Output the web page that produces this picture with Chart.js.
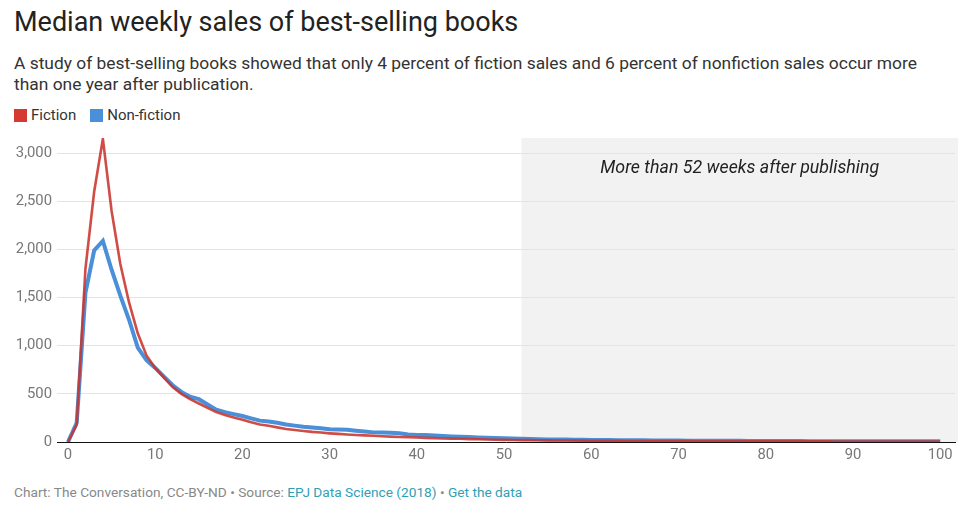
<!DOCTYPE html>
<html>
<head>
<meta charset="utf-8">
<script src="https://cdn.jsdelivr.net/npm/chart.js@4"></script>
<style>
  html, body { margin:0; padding:0; background:#fff; }
  body { width:976px; height:516px; position:relative; overflow:hidden; font-family: Roboto, "Noto Sans", sans-serif; }
  #title { position:absolute; left:14px; top:6px; font-size:27px; color:#222; white-space:nowrap; }
  #sub { position:absolute; left:14px; top:53px; font-size:17.4px; line-height:21px; color:#333; white-space:nowrap; }
  #legend { position:absolute; left:14px; top:106px; font-size:15px; color:#333; white-space:nowrap; }
  #legend span.sw { display:inline-block; width:13px; height:13px; vertical-align:-2px; margin-right:4px; }
  #legend span.it { margin-right:14px; }
  #wrap { position:absolute; left:0; top:124px; width:976px; height:346px; }
  #foot { position:absolute; left:14px; top:484px; font-size:13.7px; color:#888; white-space:nowrap; }
  #foot a { color:#2f9fb4; text-decoration:none; }
</style>
</head>
<body>
<div id="title">Median weekly sales of best-selling books</div>
<div id="sub">A study of best-selling books showed that only 4 percent of fiction sales and 6 percent of nonfiction sales occur more<br>than one year after publication.</div>
<div id="legend"></div>
<div id="wrap"><canvas id="c" width="976" height="346"></canvas></div>
<div id="foot">Chart: The Conversation, CC-BY-ND • Source: <a>EPJ Data Science (2018)</a> • <a>Get the data</a></div>
<script>
const weeks = [0,1,2,3,4,5,6,7,8,9,10,11,12,13,14,15,16,17,18,19,20,21,22,23,24,25,26,27,28,29,30,31,32,33,34,35,36,37,38,39,40,41,42,43,44,45,46,47,48,49,50,51,52,53,54,55,56,57,58,59,60,61,62,63,64,65,66,67,68,69,70,71,72,73,74,75,76,77,78,79,80,81,82,83,84,85,86,87,88,89,90,91,92,93,94,95,96,97,98,99,100];
const fiction = [0,180,1800,2600,3150,2400,1850,1450,1130,900,770,670,570,500,445,400,355,310,280,255,232,205,182,168,152,135,125,115,105,98,90,84,78,73,69,65,60,56,52,49,46,43,40,37,35,33,30,28,26,24,22,21,20,19,18,17,16,15,15,14,13,13,12,12,11,11,10,10,10,9,9,9,8,8,8,8,7,7,7,7,7,6,6,6,6,6,6,6,5,5,5,5,5,5,5,5,5,4,4,4,4];
const nonfiction = [0,200,1550,1990,2090,1790,1520,1270,980,850,770,680,590,520,470,445,390,335,310,290,270,245,222,212,200,182,170,158,150,143,132,130,128,118,108,100,98,97,90,78,74,72,68,62,58,55,52,48,44,41,38,36,33,31,29,27,26,25,24,23,22,21,20,19,18,18,17,16,16,15,15,14,14,13,13,12,12,12,11,11,11,10,10,10,10,9,9,9,9,9,8,8,8,8,8,8,7,7,7,7,7];
const seriesNames = ['Fiction','Non-fiction'];
const legendColors = ['#d43a2f','#4a90d9'];
const yTicks = [0,500,1000,1500,2000,2500,3000];
const xTicks = [0,10,20,30,40,50,60,70,80,90,100];
const shadeStart = 52;
const shadeLabel = 'More than 52 weeks after publishing';

const lg = document.getElementById('legend');
seriesNames.forEach((n,i)=>{
  lg.innerHTML += '<span class="sw" style="background:'+legendColors[i]+'"></span><span class="it">'+n+'</span>';
});

const shadePlugin = {
  id:'shade',
  beforeDraw(chart){
    const {ctx, chartArea:a, scales:{x}} = chart;
    const x0 = x.getPixelForValue(shadeStart);
    ctx.save();
    ctx.fillStyle = '#f2f2f2';
    ctx.fillRect(x0, a.top, a.right + 3 - x0, a.bottom - a.top);
    ctx.restore();
  },
  afterDatasetsDraw(chart){
    const {ctx, chartArea:a, scales:{x}} = chart;
    const x0 = x.getPixelForValue(shadeStart);
    ctx.save();
    ctx.font = 'italic 17.8px Roboto, "Noto Sans", sans-serif';
    ctx.fillStyle = '#222';
    ctx.textAlign = 'center';
    ctx.textBaseline = 'middle';
    ctx.fillText(shadeLabel, (x0 + a.right + 3)/2, a.top + 31);
    ctx.restore();
  }
};

new Chart(document.getElementById('c'), {
  type:'line',
  data:{
    datasets:[
      { label:seriesNames[0], data:weeks.map((w,i)=>({x:w,y:fiction[i]})), borderColor:'rgba(200,52,44,0.88)', borderWidth:2.6, pointRadius:0, tension:0, order:0 },
      { label:seriesNames[1], data:weeks.map((w,i)=>({x:w,y:nonfiction[i]})), borderColor:'#4a8fd8', borderWidth:4, pointRadius:0, tension:0, order:1 }
    ]
  },
  options:{
    responsive:false, animation:false,
    layout:{ padding:{ left:0, right:21, top:8, bottom:0 } },
    plugins:{ legend:{display:false}, tooltip:{enabled:false} },
    scales:{
      x:{
        type:'linear', min:-1.26, max:101.7,
        afterBuildTicks(s){ s.ticks = xTicks.map(v=>({value:v})); },
        afterFit(s){ s.height = 28; },
        grid:{ display:false, drawTicks:false },
        border:{ display:true, color:'#111', width:1 },
        ticks:{ color:'#777', font:{ size:14.8, family:'Roboto' }, padding:4, maxRotation:0, autoSkip:false }
      },
      y:{
        min:0, max:3160,
        afterBuildTicks(s){ s.ticks = yTicks.map(v=>({value:v})); },
        afterFit(s){ s.width = 57; },
        grid:{ color:(c)=> c.tick && c.tick.value===0 ? 'rgba(0,0,0,0)' : '#e4e4e4', drawTicks:false },
        border:{ display:false },
        ticks:{ color:'#777', font:{ size:14.8, family:'Roboto' }, padding:5,
          callback:(v)=> v.toLocaleString('en-US') }
      }
    }
  },
  plugins:[shadePlugin]
});
</script>
</body>
</html>
